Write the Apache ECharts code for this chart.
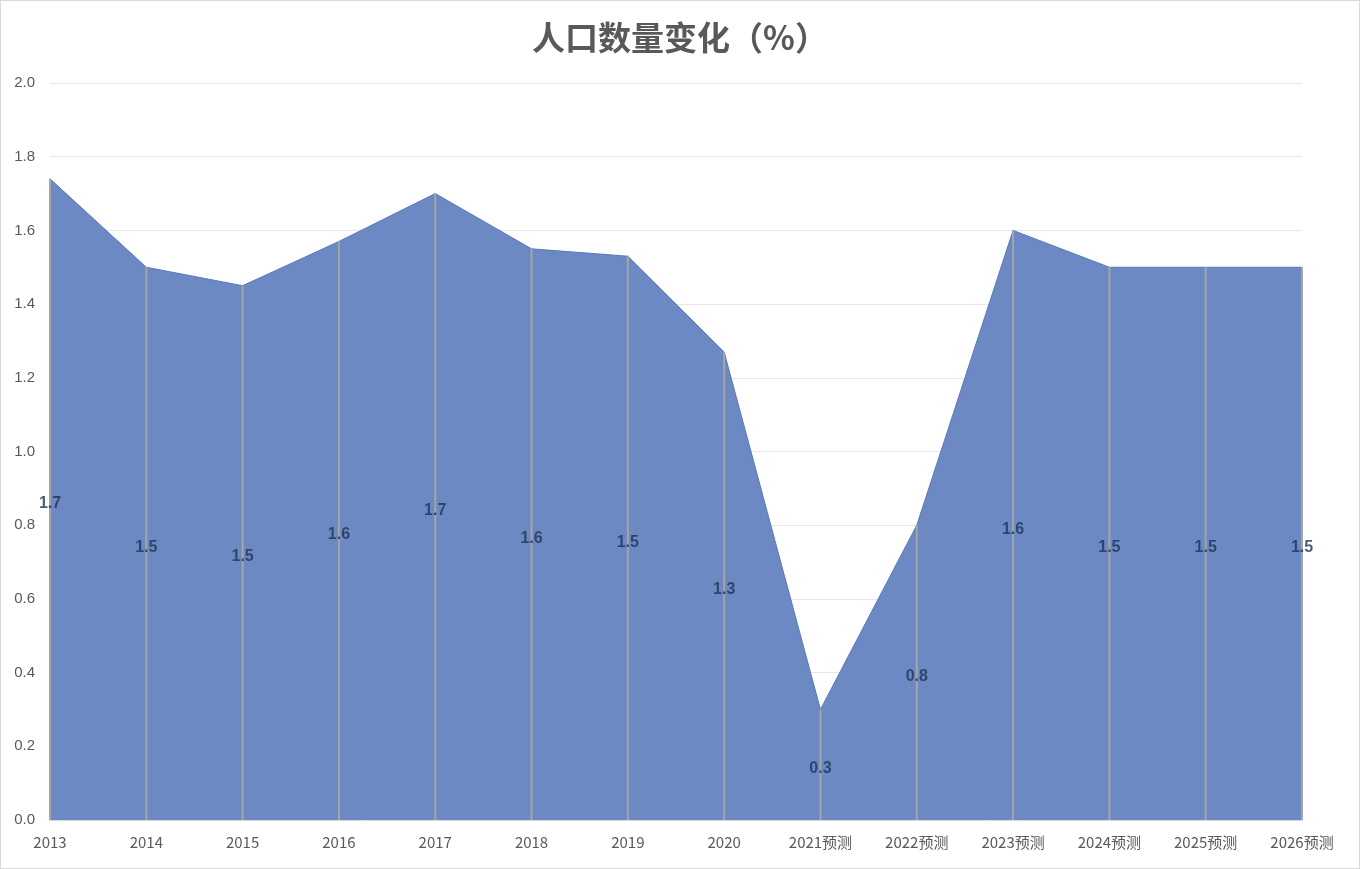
<!DOCTYPE html>
<html>
<head>
<meta charset="utf-8">
<script src="https://cdn.jsdelivr.net/npm/echarts@6/dist/echarts.min.js"></script>
<style>
html,body{margin:0;padding:0;background:#fff;}
#c{width:1358px;height:867px;border:1px solid #d9d9d9;}
</style>
</head>
<body>
<div id="c"></div>
<script>
var categories = ['2013','2014','2015','2016','2017','2018','2019','2020','2021预测','2022预测','2023预测','2024预测','2025预测','2026预测'];
var values = [1.74, 1.50, 1.45, 1.57, 1.70, 1.55, 1.53, 1.27, 0.30, 0.80, 1.60, 1.50, 1.50, 1.50];
var yTicks = [0, 0.2, 0.4, 0.6, 0.8, 1.0, 1.2, 1.4, 1.6, 1.8, 2.0];

var fmt = function (v) { return (Math.round(v * 10 + 1e-6) / 10).toFixed(1); };
var labelData = values.map(function (v) { return v / 2; });

var chart = echarts.init(document.getElementById('c'));
chart.setOption({
  animation: false,
  title: {
    text: '人口数量变化（%）',
    left: 'center',
    top: 15,
    textStyle: { fontFamily: 'Noto Sans CJK SC', fontSize: 33, fontWeight: 'bold', color: '#595959' }
  },
  grid: { left: 49, right: 57, top: 82, bottom: 48, containLabel: false },
  xAxis: {
    type: 'category',
    data: categories,
    boundaryGap: false,
    axisLine: { show: true, lineStyle: { color: '#d9d9d9' } },
    axisTick: { show: false },
    axisLabel: { color: '#595959', fontSize: 15, margin: 15, fontFamily: 'Noto Sans CJK SC', interval: 0 },
    splitLine: { show: false }
  },
  yAxis: {
    type: 'value',
    min: yTicks[0],
    max: yTicks[yTicks.length - 1],
    interval: 0.2,
    axisLine: { show: false },
    axisTick: { show: false },
    axisLabel: { color: '#595959', fontSize: 15, margin: 15, fontFamily: 'Liberation Sans', formatter: function (v) { return v.toFixed(1); } },
    splitLine: { show: true, lineStyle: { color: '#e6e6e6', width: 1 } }
  },
  series: [
    {
      type: 'line',
      data: values,
      symbol: 'none',
      lineStyle: { color: '#5878b8', width: 1 },
      areaStyle: { color: '#6c89c3', opacity: 1 },
      z: 2
    },
    {
      type: 'bar',
      data: values,
      barWidth: 2,
      itemStyle: { color: '#a5a5a5' },
      z: 3,
      silent: true
    },
    {
      type: 'scatter',
      data: labelData,
      symbol: 'circle',
      symbolSize: 2,
      itemStyle: { color: 'rgba(0,0,0,0)' },
      z: 5,
      silent: true,
      label: {
        show: true,
        position: 'inside',
        offset: [0, 4],
        formatter: function (p) { return fmt(values[p.dataIndex]); },
        color: '#1f3354',
        fontSize: 16,
        fontWeight: 'bold',
        fontFamily: 'Liberation Sans'
      }
    }
  ]
});
</script>
</body>
</html>
